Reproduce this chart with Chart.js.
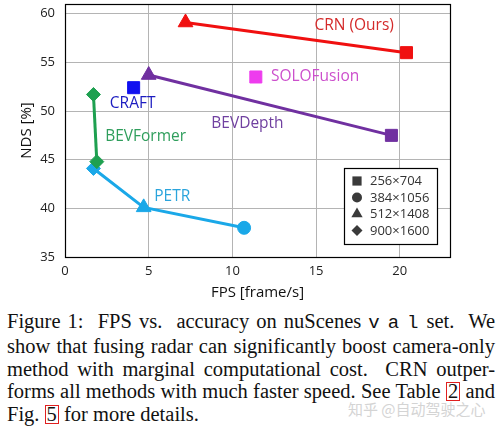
<!DOCTYPE html>
<html>
<head>
<meta charset="utf-8">
<script src="https://cdn.jsdelivr.net/npm/chart.js@4.4.0/dist/chart.umd.min.js"></script>
<style>
  body { margin: 0; background: #fff; width: 502px; height: 432px; overflow: hidden; position: relative; }
  #wrap { position: absolute; left: 0; top: 0; width: 502px; height: 300px; }
  #caption { position: absolute; left: 7px; top: 310px; width: 488px; font-family: "Liberation Serif", serif; font-size: 20.5px; line-height: 22.75px; color: #111; }
  .ln { text-align: justify; text-align-last: justify; white-space: nowrap; }
  .last { text-align: left; white-space: nowrap; }
  .tt { font-family: "Liberation Mono", monospace; font-size: 19px; letter-spacing: 8px; }
  .ref { display: inline-block; border: 1px solid #e02020; line-height: 17px; padding: 0 1px; }
  #mark { position: absolute; left: 348px; top: 398px; font-family: "Noto Sans CJK SC", sans-serif; font-size: 15px; color: #d4d4d4; }
</style>
</head>
<body>
<div id="wrap"><canvas id="fpsChart" width="502" height="300"></canvas></div>
<div id="caption">
  <div class="ln">Figure 1:&nbsp; FPS vs.&nbsp; accuracy on nuScenes <span class="tt">val</span>set.&nbsp; We</div>
  <div class="ln">show that fusing radar can significantly boost camera-only</div>
  <div class="ln">method with marginal computational cost.&nbsp; CRN outper-</div>
  <div class="ln">forms all methods with much faster speed. See Table <span class="ref">2</span> and</div>
  <div class="last">Fig. <span class="ref">5</span> for more details.</div>
</div>
<div id="mark">知乎 @自动驾驶之心</div>
<script>
const font = '"Open Sans", sans-serif';

// resolution legend
const resolutions = ['256×704', '384×1056', '512×1408', '900×1600'];

// FPS [frame/s], NDS [%], input resolution per point
const crnFps = [7.2, 20.4];
const crnNds = [59.1, 56.0];
const crnRes = ['512×1408', '256×704'];

const bevDepthFps = [5.0, 19.5];
const bevDepthNds = [53.7, 47.5];
const bevDepthRes = ['512×1408', '256×704'];

const soloFusionFps = [11.4];
const soloFusionNds = [53.5];
const soloFusionRes = ['256×704'];

const craftFps = [4.1];
const craftNds = [52.4];
const craftRes = ['256×704'];

const bevFormerFps = [1.7, 1.9];
const bevFormerNds = [51.7, 44.8];
const bevFormerRes = ['900×1600', '900×1600'];

const petrFps = [1.7, 4.7, 10.7];
const petrNds = [44.1, 40.1, 38.0];
const petrRes = ['900×1600', '512×1408', '384×1056'];

const markerFor = { '256×704': 'rect', '384×1056': 'circle', '512×1408': 'triangle', '900×1600': 'rectRot' };
const radiusFor = { rect: 8.5, circle: 6.5, triangle: 8.5, rectRot: 7 };

function series(label, fps, nds, res, color) {
    const styles = res.map(r => markerFor[r]);
    return {
        label: label,
        data: fps.map((v, i) => ({ x: v, y: nds[i] })),
        showLine: true,
        borderColor: color,
        backgroundColor: color,
        borderWidth: 3,
        pointStyle: styles,
        pointRadius: styles.map(s => radiusFor[s]),
        pointBorderWidth: 1,
        pointBorderColor: color,
        pointBackgroundColor: color
    };
}

// text labels next to each method
const methodLabels = [
    { text: 'CRN (Ours)', x: 14.9, y: 58.8, color: '#d42a2a' },
    { text: 'SOLOFusion', x: 12.3, y: 53.5, color: '#cc4fcc' },
    { text: 'CRAFT', x: 2.68, y: 50.8, color: '#1c1cc0' },
    { text: 'BEVDepth', x: 8.74, y: 48.7, color: '#7040a0' },
    { text: 'BEVFormer', x: 2.4, y: 47.4, color: '#2f9e5c' },
    { text: 'PETR', x: 5.33, y: 41.2, color: '#2aa4dc' }
];

function shape(ctx, style, x, y, r) {
    ctx.beginPath();
    if (style === 'rect') {
        const s = r * Math.SQRT1_2;
        ctx.rect(x - s, y - s, 2 * s, 2 * s);
    } else if (style === 'circle') {
        ctx.arc(x, y, r, 0, Math.PI * 2);
    } else if (style === 'triangle') {
        ctx.moveTo(x, y - r);
        ctx.lineTo(x + r * 0.866, y + r * 0.5);
        ctx.lineTo(x - r * 0.866, y + r * 0.5);
        ctx.closePath();
    } else {
        ctx.moveTo(x, y - r);
        ctx.lineTo(x + r, y);
        ctx.lineTo(x, y + r);
        ctx.lineTo(x - r, y);
        ctx.closePath();
    }
    ctx.fill();
}

const extras = {
    id: 'extras',
    afterDatasetsDraw(chart) {
        const { ctx, chartArea: a, scales: { x, y } } = chart;
        ctx.save();
        ctx.strokeStyle = '#000';
        ctx.lineWidth = 1.2;
        ctx.strokeRect(Math.round(a.left) + 0.5, Math.round(a.top) + 0.5, Math.round(a.right - a.left), Math.round(a.bottom - a.top));

        ctx.font = '15.5px ' + font;
        ctx.textBaseline = 'middle';
        methodLabels.forEach(l => {
            ctx.fillStyle = l.color;
            ctx.fillText(l.text, x.getPixelForValue(l.x), y.getPixelForValue(l.y));
        });

        // resolution legend box
        const bx = a.right - 106, by = a.bottom - 89, bw = 93, bh = 76;
        ctx.fillStyle = '#fff';
        ctx.fillRect(bx, by, bw, bh);
        ctx.strokeRect(bx + 0.5, by + 0.5, bw, bh);
        ctx.font = '13px ' + font;
        const sizes = { rect: 6.5, circle: 5, triangle: 6.5, rectRot: 5.5 };
        resolutions.forEach((r, i) => {
            const cy = by + 13 + i * 16.5;
            ctx.fillStyle = '#3a3a3a';
            shape(ctx, markerFor[r], bx + 13, cy, sizes[markerFor[r]]);
            ctx.fillStyle = '#333';
            ctx.fillText(r, bx + 26, cy + 0.5);
        });
        ctx.restore();
    }
};

const ctx = document.querySelector('#fpsChart').getContext('2d');

new Chart(ctx, {
    type: 'scatter',
    data: {
        datasets: [
            series('CRN (Ours)', crnFps, crnNds, crnRes, '#f01010'),
            series('BEVDepth', bevDepthFps, bevDepthNds, bevDepthRes, '#7030a0'),
            series('SOLOFusion', soloFusionFps, soloFusionNds, soloFusionRes, '#ee3cee'),
            series('CRAFT', craftFps, craftNds, craftRes, '#1010f0'),
            series('BEVFormer', bevFormerFps, bevFormerNds, bevFormerRes, '#1ea050'),
            series('PETR', petrFps, petrNds, petrRes, '#1aa8e8')
        ]
    },
    options: {
        responsive: false,
        animation: false,
        layout: { autoPadding: false, padding: { top: 4, right: 52, left: 0, bottom: 0 } },
        scales: {
            x: {
                type: 'linear',
                min: 0,
                max: 23,
                afterFit(s) { s.height = 43; s.paddingLeft = 0; s.paddingRight = 0; },
                ticks: { stepSize: 5, includeBounds: false, color: '#222', padding: 6, font: { family: font, size: 13 } },
                grid: { color: '#b4b4b4', drawTicks: false },
                border: { color: '#000' },
                title: { display: true, text: 'FPS [frame/s]', color: '#111', font: { family: font, size: 15 }, padding: { top: 0, bottom: -2 } }
            },
            y: {
                min: 35,
                max: 61,
                afterFit(s) { s.width = 65; s.paddingTop = 0; s.paddingBottom = 0; },
                ticks: { stepSize: 5, includeBounds: false, color: '#222', padding: 10, font: { family: font, size: 13 } },
                grid: { color: '#b4b4b4', drawTicks: false },
                border: { color: '#000' },
                title: { display: true, text: 'NDS [%]', color: '#111', font: { family: font, size: 15 }, padding: { top: 18, bottom: 0 } }
            }
        },
        plugins: {
            legend: { display: false },
            tooltip: { enabled: false }
        }
    },
    plugins: [extras]
});
</script>
</body>
</html>
